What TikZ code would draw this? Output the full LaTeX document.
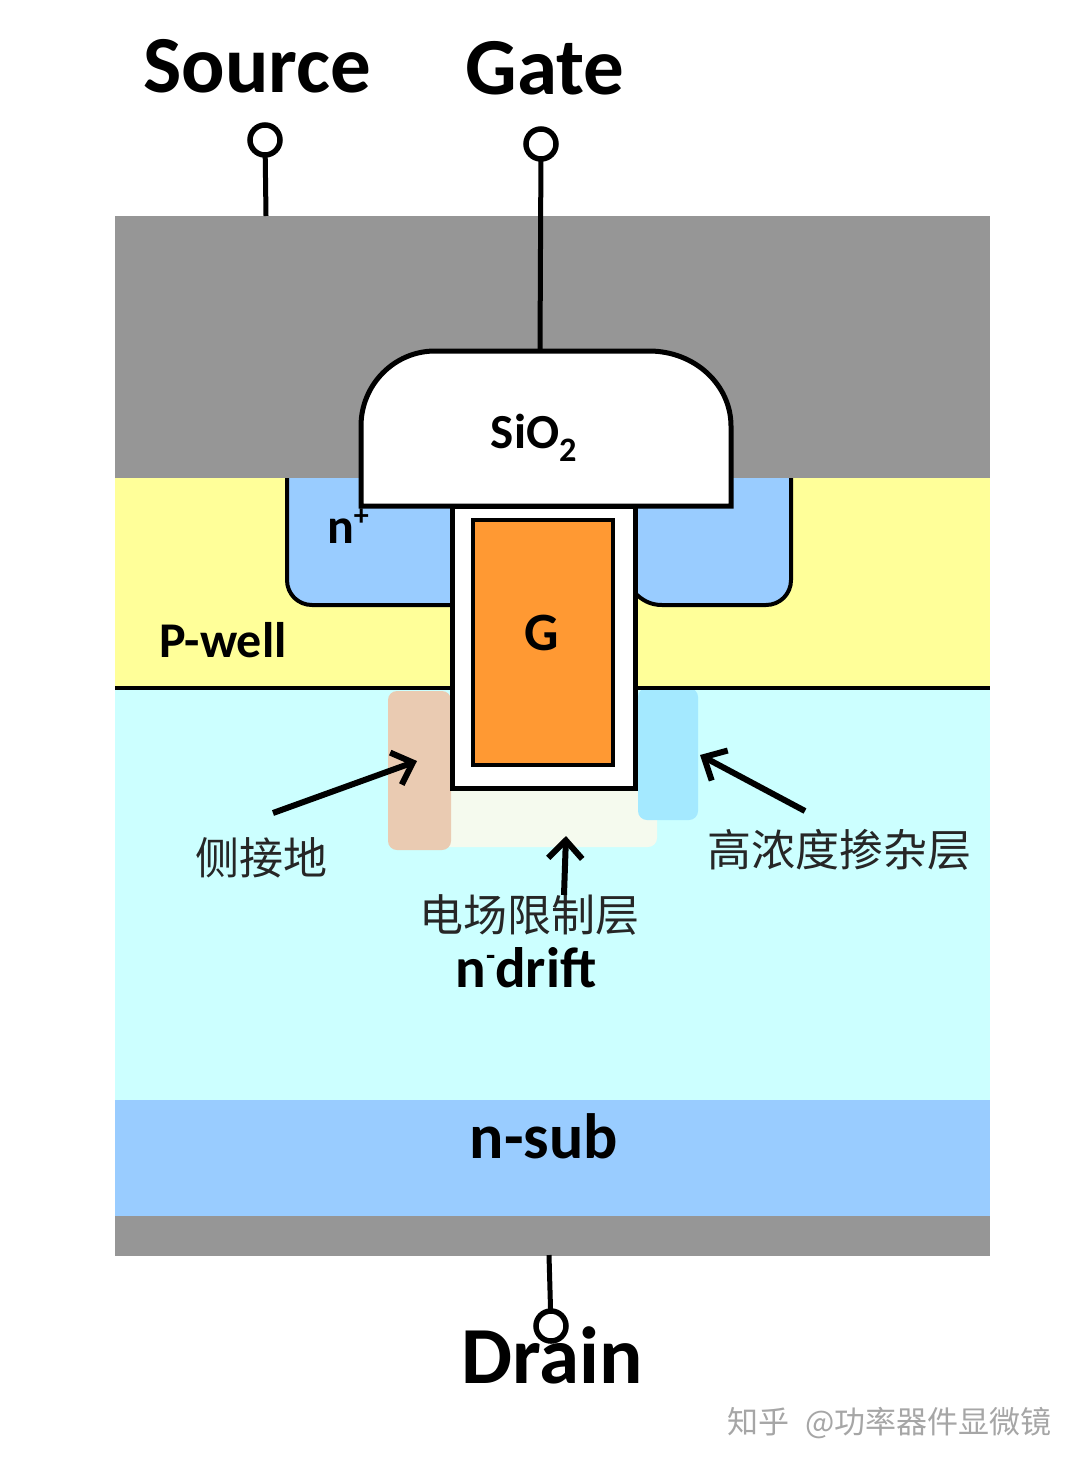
\documentclass[tikz,border=0pt]{standalone}
\usepackage{fontspec}
\setmainfont{Carlito}
\newfontfamily\cjk{Noto Sans CJK SC}
\usetikzlibrary{arrows.meta}

\definecolor{metalgray}{HTML}{969696}
\definecolor{wellyellow}{HTML}{FFFF99}
\definecolor{driftcyan}{HTML}{CCFFFF}
\definecolor{subblue}{HTML}{99CCFF}
\definecolor{gateorange}{HTML}{FF9933}
\definecolor{peachpatch}{HTML}{EACBB2}
\definecolor{bluepatch}{HTML}{A4E9FF}
\definecolor{creampatch}{HTML}{F5FAEE}

\tikzset{
  layer/.style={rectangle, inner sep=0pt, outer sep=0pt, minimum width=875pt},
  patch/.style={rectangle, rounded corners=9pt, inner sep=0pt, outer sep=0pt},
  terminal/.style={draw, circle, fill=white, line width=5.5pt, minimum size=30pt, inner sep=0pt, outer sep=0pt},
  wire/.style={line width=5pt},
  edge line/.style={line width=4pt},
  pointer/.style={line width=6pt, -{Straight Barb[length=18pt, width=34pt, line width=6pt]}},
  bigtext/.style={anchor=base, inner sep=0pt, font=\fontsize{81}{90}\selectfont\bfseries},
  midtext/.style={anchor=base, inner sep=0pt, font=\fontsize{49}{55}\selectfont\bfseries},
  cntext/.style={anchor=center, inner sep=0pt, font=\fontsize{44}{50}\selectfont\cjk, text=black!85}
}

\begin{document}
\begin{tikzpicture}[x=1pt, y=-1pt]

  \useasboundingbox (0,0) rectangle (1080,1469);

  % --- Layers ---
  \node[layer, fill=metalgray, minimum height=262pt] (topmetal) at (552.5,347) {};
  \node[layer, fill=wellyellow, minimum height=210pt] (pwell) at (552.5,583) {};
  \node[layer, fill=driftcyan, minimum height=412pt] (drift) at (552.5,894) {};
  \node[layer, fill=subblue, minimum height=116pt] (nsub) at (552.5,1158) {};
  \node[layer, fill=metalgray, minimum height=40pt] (drainmetal) at (552.5,1236) {};

  % --- Patches beside the trench ---
  \node[patch, fill=creampatch, minimum width=226pt, minimum height=60pt] (fieldlayer) at (544,817) {};
  \node[patch, fill=peachpatch, minimum width=63pt, minimum height=159pt] (sidelayer) at (419.5,770.5) {};
  \node[patch, fill=bluepatch, minimum width=60pt, minimum height=132pt] (dopedlayer) at (668,754) {};

  % --- n+ wells ---
  \draw[edge line, fill=subblue] (287,478) -- (287,580) .. controls (287,594) and (298,605) .. (312,605) -- (452,605) -- (452,478);
  \draw[edge line, fill=subblue] (791,478) -- (791,580) .. controls (791,594) and (780,605) .. (766,605) -- (662,605) .. controls (650,605) and (642,600) .. (635,593) -- (635,478);

  % --- Boundary of p-well and drift ---
  \draw[edge line] (drift.north west) -- (452,688);
  \draw[edge line] (635,688) -- (drift.north east);

  % --- Gate stack ---
  \node[draw, rectangle, fill=white, line width=5pt, minimum width=183pt, minimum height=282pt, inner sep=0pt, outer sep=0pt] (oxide) at (543.5,647) {};
  \node[draw, rectangle, fill=gateorange, line width=4.5pt, minimum width=140pt, minimum height=245pt, inner sep=0pt, outer sep=0pt] (gatepoly) at (543,642.5) {};
  \coordinate (captop) at (540,351);
  \draw[line width=5pt, fill=white] (361,506) -- (361,426) .. controls (361,385) and (394,351) .. (435,351) -- (649,351) .. controls (695,351) and (731,385) .. (731,426) -- (731,506) -- cycle;

  % --- Terminals ---
  \node[terminal] (sourcepin) at (265,140) {};
  \node[terminal] (gatepin) at (541,144) {};
  \node[terminal] (drainpin) at (551,1326) {};
  \coordinate (sourcefoot) at (266,216);
  \coordinate (drainfoot) at (549,1255);
  \draw[wire] (sourcepin) -- (sourcefoot);
  \draw[wire] (gatepin) -- (captop);
  \draw[wire] (drainpin) -- (drainfoot);

  % --- Labels ---
  \node[bigtext] (sourcelabel) at (257,93) {Source};
  \node[bigtext] (gatelabel) at (545,95) {Gate};
  \node[bigtext] (drainlabel) at (552,1383) {Drain};
  \node[midtext] (sio) at (534,448) {SiO\textsubscript{2}};
  \node[midtext, font=\fontsize{50}{55}\selectfont\bfseries] (nplus) at (348,543) {n\raisebox{18pt}{\fontsize{30}{30}\selectfont +}};
  \node[midtext, font=\fontsize{50}{55}\selectfont\bfseries] (wellabel) at (223,657) {P-well};
  \node[midtext, font=\fontsize{54}{60}\selectfont\bfseries] (gatename) at (542,650) {G};
  \node[bigtext, font=\fontsize{57}{60}\selectfont\bfseries] (driftlabel) at (526,987) {n\raisebox{22pt}{\fontsize{30}{30}\selectfont -}drift};
  \node[bigtext, font=\fontsize{64}{70}\selectfont\bfseries] (sublabel) at (544,1158) {n-sub};

  \node[cntext] (sidelabel) at (261,858) {侧接地};
  \node[cntext] (dopedlabel) at (839,850) {高浓度掺杂层};
  \node[cntext] (fieldlabel) at (529,915) {电场限制层};
  \node[anchor=east, inner sep=0pt, font=\fontsize{31}{36}\selectfont\cjk, text=black!35] (markname) at (1052,1423) {知乎\hspace{0.3em} @功率器件显微镜};

  % --- Arrows ---
  \coordinate (sidetail) at (273,813);
  \coordinate (sidetip) at (417,761);
  \coordinate (dopedtail) at (805,811);
  \coordinate (dopedtip) at (700,755);
  \coordinate (fieldtail) at (564,895);
  \coordinate (fieldtip) at (566,836);
  \draw[pointer] (sidetail) -- (sidetip);
  \draw[pointer] (dopedtail) -- (dopedtip);
  \draw[pointer] (fieldtail) -- (fieldtip);

\end{tikzpicture}
\end{document}
